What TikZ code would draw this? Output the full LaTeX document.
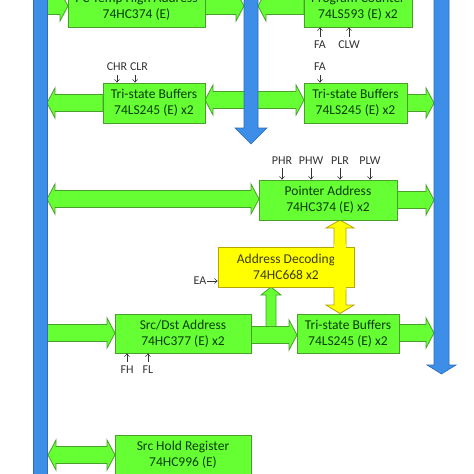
\documentclass[tikz,border=0pt]{standalone}
\usepackage{fontspec}
\setmainfont{Carlito}
\usetikzlibrary{arrows.meta}
\definecolor{gfill}{RGB}{102,255,51}
\definecolor{gedge}{RGB}{72,160,42}
\definecolor{gtext}{RGB}{10,60,10}
\definecolor{bfill}{RGB}{60,142,232}
\definecolor{bedge}{RGB}{46,108,182}
\definecolor{yfill}{RGB}{255,255,0}
\definecolor{yedge}{RGB}{180,165,0}
\definecolor{ytext}{RGB}{60,60,0}
\definecolor{sigc}{RGB}{50,50,50}
\tikzset{
  garrow/.style={fill=gfill,draw=gedge,line width=0.8pt,line join=miter},
  yarrow/.style={fill=yfill,draw=yedge,line width=0.8pt},
  busbar/.style={fill=bfill,draw=bedge,line width=0.6pt},
  gbox/.style={fill=gfill,draw=gedge,line width=0.8pt,inner sep=0pt,text=gtext,
    align=center,font=\fontsize{13.5}{16}\selectfont},
  ybox/.style={fill=yfill,draw=yedge,line width=0.8pt,inner sep=0pt,text=ytext,
    align=center,font=\fontsize{13.5}{16}\selectfont},
  lbl/.style={inner sep=0.5pt,text=sigc,font=\fontsize{12}{13}\selectfont},
  sig/.style={draw=sigc,line width=0.55pt,-{Straight Barb[length=2.8pt,width=5pt]}}
}
% right-pointing: start x, tip x, centre y
\newcommand\ArR[3]{\filldraw[garrow] (#1,#3-8.5) -- (#2-8,#3-8.5) -- (#2-8,#3-15) -- (#2,#3) -- (#2-8,#3+15) -- (#2-8,#3+8.5) -- (#1,#3+8.5) -- cycle;}
% left-pointing: start x (right), tip x (left), centre y
\newcommand\ArL[3]{\filldraw[garrow] (#1,#3-8.5) -- (#2+8,#3-8.5) -- (#2+8,#3-15) -- (#2,#3) -- (#2+8,#3+15) -- (#2+8,#3+8.5) -- (#1,#3+8.5) -- cycle;}
% double: left tip, right tip, centre y
\newcommand\ArLR[3]{\filldraw[garrow] (#1,#3) -- (#1+8,#3-15) -- (#1+8,#3-8.5) -- (#2-8,#3-8.5) -- (#2-8,#3-15) -- (#2,#3) -- (#2-8,#3+15) -- (#2-8,#3+8.5) -- (#1+8,#3+8.5) -- (#1+8,#3+15) -- cycle;}
\begin{document}
\begin{tikzpicture}[x=1pt,y=-1pt]
\useasboundingbox (0,0) rectangle (474,474);
\begin{scope}
\clip (0,0) rectangle (474,474);
% ---- green block arrows ----
\ArR{47}{68}{6}
\ArR{205}{244}{6}
\ArL{304}{258}{6}
\ArL{103}{47}{103}
\ArLR{205}{304}{100}
\ArR{407}{434}{103}
\ArLR{47}{259}{199}
\ArR{397}{434}{200}
\ArR{47}{115}{333}
\ArR{399}{434}{333}
\ArLR{48}{115}{455}
% up arrow into address decoding
\filldraw[garrow] (266,328) -- (266,295) -- (261,295) -- (271,287) -- (281,295) -- (276,295) -- (276,328) -- cycle;
\ArR{251}{297}{335}
% yellow double arrow
\filldraw[yarrow] (340,220) -- (354,228) -- (346,228) -- (346,305) -- (354,305) -- (340,313.5) -- (326,305) -- (334,305) -- (334,228) -- (326,228) -- cycle;
% ---- buses ----
\filldraw[busbar] (33,-5) rectangle (47,480);
\filldraw[busbar] (244,-5) -- (244,128) -- (235,128) -- (251,144) -- (267,128) -- (258,128) -- (258,-5) -- cycle;
\filldraw[busbar] (434,-5) -- (434,365) -- (427,365) -- (441.5,374) -- (456,365) -- (449,365) -- (449,-5) -- cycle;
% ---- boxes ----
\node[gbox,minimum width=137pt,minimum height=40pt] (pct) at (136.5,7) {PC Temp High Address\\74HC374 (E)};
\node[gbox,minimum width=108pt,minimum height=40pt] (pc) at (358,7) {Program Counter\\74LS593 (E) x2};
\node[gbox,minimum width=102pt,minimum height=40pt] (tsl) at (154,103) {Tri-state Buffers\\74LS245 (E) x2};
\node[gbox,minimum width=103pt,minimum height=40pt] (tsr) at (355.5,103) {Tri-state Buffers\\74LS245 (E) x2};
\node[gbox,minimum width=138pt,minimum height=40pt] (pa) at (328,200) {Pointer Address\\74HC374 (E) x2};
\node[ybox,minimum width=136pt,minimum height=40pt] (ad) at (286,267) {Address Decoding\\74HC668 x2};
\fill[yfill] (334.4,244) rectangle (345.6,290);
\node[gbox,minimum width=136pt,minimum height=39pt] (sd) at (183,333.5) {Src/Dst Address\\74HC377 (E) x2};
\node[gbox,minimum width=102pt,minimum height=39pt] (tsb) at (348,333.5) {Tri-state Buffers\\74LS245 (E) x2};
\node[gbox,minimum width=136pt,minimum height=40pt] (sh) at (183,455) {Src Hold Register\\74HC996 (E)};
% ---- control labels ----
\node[lbl] (fa1) at (320,45) {FA};
\node[lbl] (clw) at (349,45) {CLW};
\draw[sig] (fa1.north |- 0,37) -- (fa1.north |- pc.south);
\draw[sig] (clw.north |- 0,37) -- (clw.north |- pc.south);
\node[lbl] (chr) at (117,67) {CHR};
\node[lbl] (clr) at (139,67) {CLR};
\coordinate (clrx) at (135,75);
\draw[sig] (chr.south |- 0,75) -- (chr.south |- tsl.north);
\draw[sig] (clrx) -- (clrx |- tsl.north);
\node[lbl] (fa2) at (320,67) {FA};
\draw[sig] (fa2.south |- 0,75) -- (fa2.south |- tsr.north);
\node[lbl] (phr) at (282,161) {PHR};
\node[lbl] (phw) at (311,161) {PHW};
\node[lbl] (plr) at (340,161) {PLR};
\node[lbl] (plw) at (370,161) {PLW};
\foreach \n in {phr,phw,plr,plw}{
  \draw[sig] (\n.south |- 0,168) -- (\n.south |- pa.north);
}
\node[lbl] (ea) at (200,281) {EA};
\draw[sig] (ea.east) -- (ea.east -| ad.west);
\node[lbl] (fh) at (127,370) {FH};
\node[lbl] (fl) at (148,370) {FL};
\draw[sig] (fh.north |- 0,362) -- (fh.north |- sd.south);
\draw[sig] (fl.north |- 0,362) -- (fl.north |- sd.south);
\end{scope}
\end{tikzpicture}
\end{document}
